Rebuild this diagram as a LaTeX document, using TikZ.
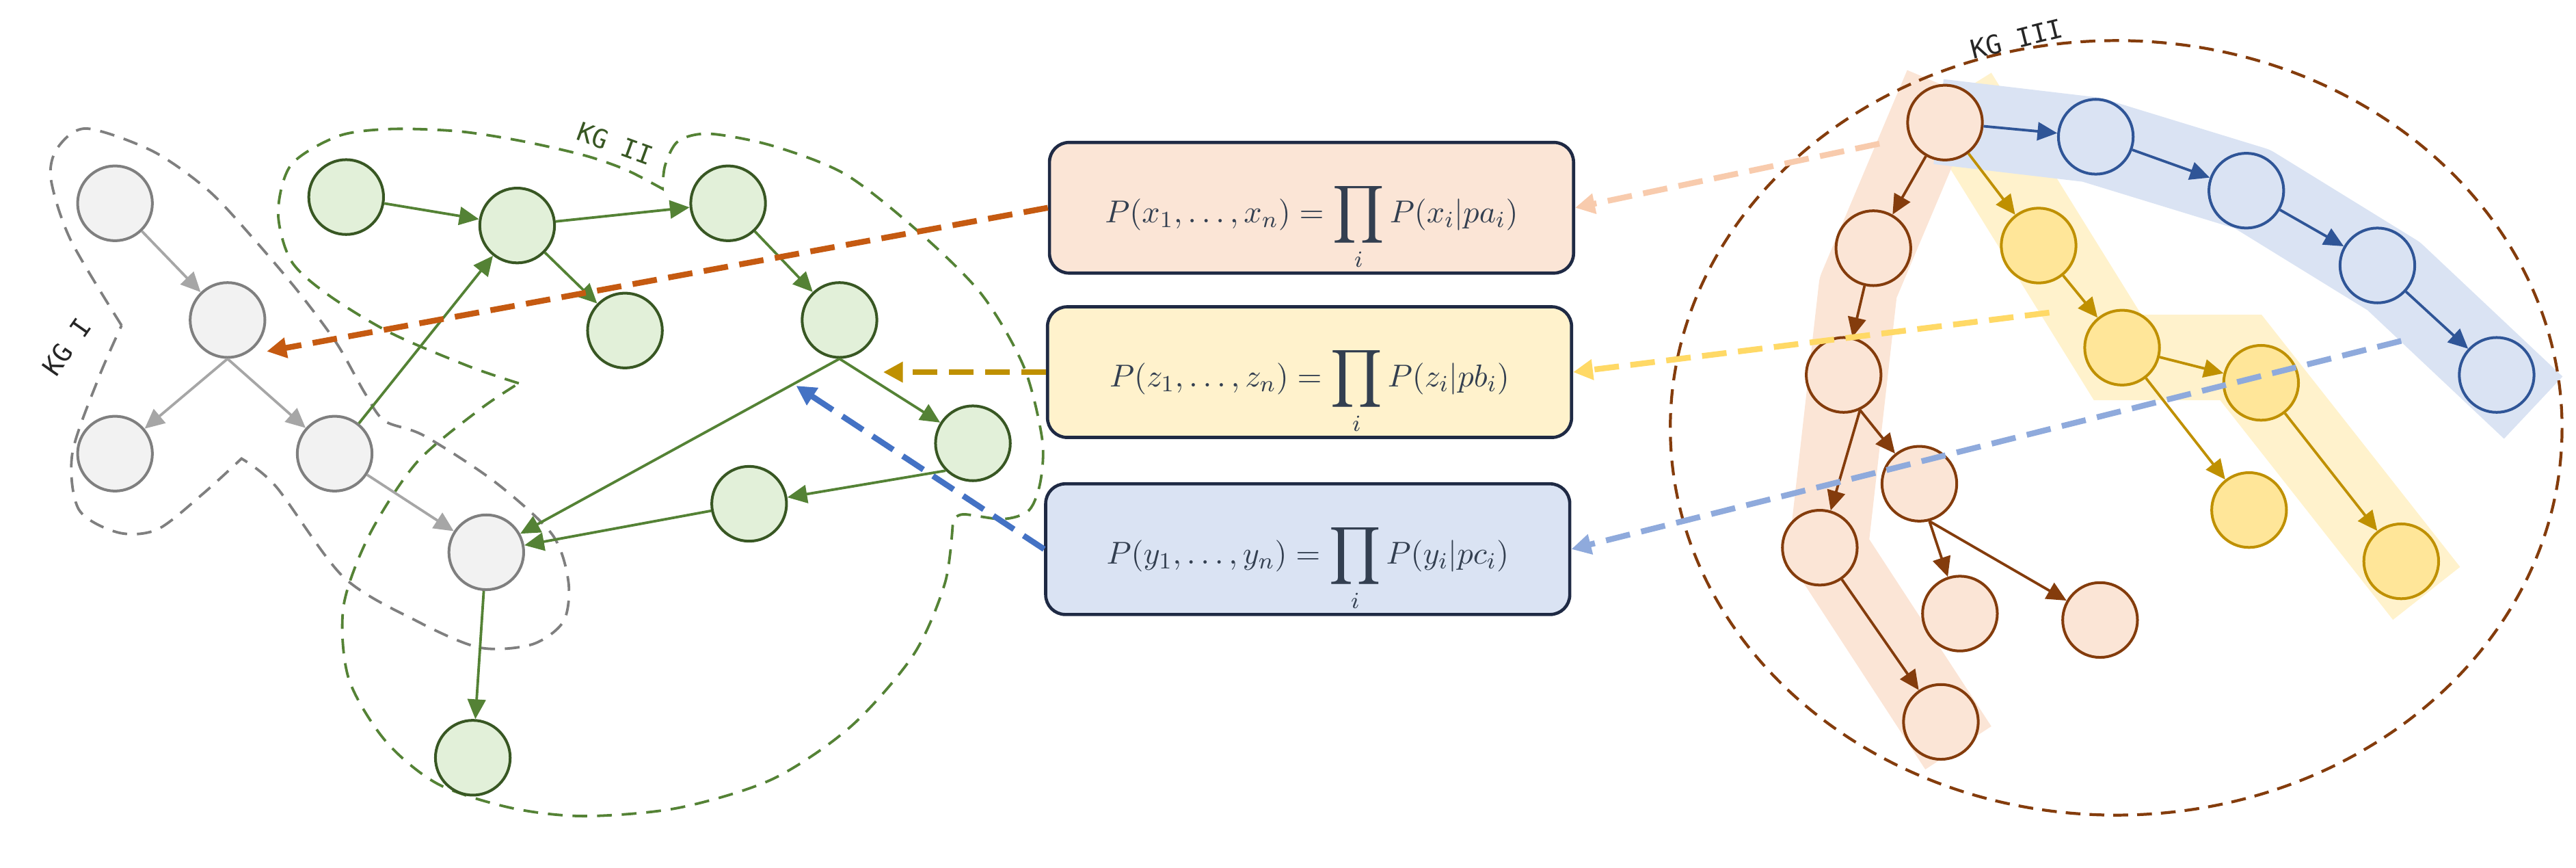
\documentclass[tikz,border=0pt]{standalone}
\usepackage{fontspec}
\usepackage{graphicx}
\newfontfamily\kgfont{DejaVu Sans Mono}
\usetikzlibrary{arrows.meta}
\newcommand{\bigprod}{\mathop{\vcenter{\hbox{\scalebox{1.4}{$\displaystyle\prod$}}}}\limits}
\definecolor{grayln}{HTML}{7F7F7F}
\definecolor{grayfl}{HTML}{F2F2F2}
\definecolor{grayar}{HTML}{A6A6A6}
\definecolor{greenln}{HTML}{385723}
\definecolor{greenfl}{HTML}{E2F0D9}
\definecolor{greenar}{HTML}{548235}
\definecolor{pchln}{HTML}{843C0C}
\definecolor{pchfl}{HTML}{FBE5D6}
\definecolor{ylwln}{HTML}{BF9000}
\definecolor{ylwfl}{HTML}{FFE699}
\definecolor{ylwbd}{HTML}{FFF2CC}
\definecolor{blueln}{HTML}{2F5597}
\definecolor{bluefl}{HTML}{DAE3F3}
\definecolor{boxln}{HTML}{1F2A44}
\definecolor{formtxt}{HTML}{333F50}
\definecolor{orgar}{HTML}{C55A11}
\definecolor{goldar}{HTML}{BF9000}
\definecolor{bluear}{HTML}{4472C4}
\definecolor{pchlt}{HTML}{F8CBAD}
\definecolor{ylwlt}{HTML}{FFD966}
\definecolor{bluelt}{HTML}{8FAADC}
\begin{document}
\begin{tikzpicture}[x=0.2mm,y=-0.2mm,
  kgnd/.style={circle,minimum size=9.1mm,inner sep=0pt,line width=0.95pt},
  gnd/.style={kgnd,draw=grayln,fill=grayfl},
  vnd/.style={kgnd,draw=greenln,fill=greenfl},
  pnd/.style={kgnd,draw=pchln,fill=pchfl},
  ynd/.style={kgnd,draw=ylwln,fill=ylwfl},
  bnd/.style={kgnd,draw=blueln,fill=bluefl},
  arr/.style={-{Triangle[length=2.4mm,width=2.2mm]},line width=0.9pt},
  garr/.style={arr,draw=grayar},
  varr/.style={arr,draw=greenar},
  parr/.style={arr,draw=pchln},
  yarr/.style={arr,draw=ylwln},
  barr/.style={arr,draw=blueln},
  dlink/.style={-{Triangle[length=2.4mm,width=2.4mm]},line width=2pt,dash pattern=on 3mm off 1.4mm},
  blob/.style={line width=0.9pt,dash pattern=on 1.8mm off 1.2mm},
  band/.style={line width=10.4mm,line cap=butt},
  formbox/.style={draw=boxln,line width=1.1pt,rounded corners=2.4mm,minimum width=63.8mm,minimum height=15.9mm,text=formtxt,font=\fontsize{11}{13}\selectfont},
  kglab/.style={font=\kgfont\fontsize{9}{10}\selectfont}]
\useasboundingbox (0,0) rectangle (1568,527.7);

\draw[blob,grayln] plot[smooth] coordinates {(74,198) (43,146) (31,109) (35,90) (52.6,78.2) (93,92) (127,116) (155,146) (182,178) (205,209) (222,239) (234,256) (258,265) (301,293) (336,325) (346,354) (343,378) (324,392) (292,394) (254,378) (209,351) (168,296) (147,279)}
  --plot[smooth] coordinates {(147,279) (124,300) (96,322) (72,324) (48,310) (44,276) (60,230) (74,198)} -- cycle;
\draw[blob,greenar] plot[smooth] coordinates {(315.8,233.2) (285.5,222.9) (237.7,202.5) (199.5,179.2) (177.2,158.7) (169.3,129.5) (177.2,100.3) (205.9,82.8) (237.7,78.5) (279.1,79.9) (317.4,85.8) (355.6,94.5) (381,103.3) (403.3,114.9)}
  --plot[smooth] coordinates {(403.3,114.9) (404.9,100.4) (412.9,85.8) (432,81.4) (470.2,88.7) (514.8,106.2) (559.4,141.2) (597.6,179.2) (623.1,222.9) (634.3,266.7) (633.3,293) (626.3,310.5) (610.4,315.8) (586.5,312.9) (580.1,316.4)}
  --plot[smooth] coordinates {(580.1,316.4) (575.3,354.3) (556.2,398.1) (518,441.9) (470.2,474) (412.9,491.5) (355.6,496.5) (311,491.5) (266.4,476.9) (234.5,450.6) (212.2,412.7) (209.1,368.9) (225,325.1) (253.7,281.3) (291.9,249.2) (315.8,233.2)} -- cycle;
\node[kglab,rotate=55,text=black!85] (l1) at (40.6,211) {KG I};
\node[kglab,rotate=-20,text=greenln] (l2) at (374.5,87.4) {KG II};

\draw[band,ylwbd,line join=miter] (1190,58) -- (1289,217.5) -- (1364,217.5) -- (1477,361);
\draw[band,pchfl,line width=9.6mm,line join=round] (1183,52) -- (1131,175) -- (1113,334) -- (1192,455);
\draw[band,bluefl,line join=round] (1180,74) -- (1273,85) -- (1371,115) -- (1457,168) -- (1542,248);
\draw[pchln,line width=1pt,dash pattern=on 1.8mm off 1.1mm] (1288.1,260.3) ellipse [x radius=271.4, y radius=235.6];
\node[kglab,rotate=14,text=black!85] (l3) at (1227.5,23.6) {KG III};

\node[gnd] (g1) at (70,123.7) {};
\node[gnd] (g2) at (138.5,194.7) {};
\node[gnd] (g3) at (70,276) {};
\node[gnd] (g4) at (203.7,276) {};
\node[gnd] (g5) at (296,336) {};
\node[vnd] (v1) at (210.7,119.9) {};
\node[vnd] (v2) at (314.8,137.2) {};
\node[vnd] (v3) at (443.2,123.7) {};
\node[vnd] (v4) at (380.4,201.1) {};
\node[vnd] (v5) at (511,194.7) {};
\node[vnd] (v6) at (592.2,269.7) {};
\node[vnd] (v7) at (456,306.5) {};
\node[vnd] (v8) at (287.8,461) {};

\draw[garr] (g1) -- (g2);
\draw[garr] (g2.south) -- (g3);
\draw[garr] (g2.south) -- (g4);
\draw[garr] (g4) -- (g5);
\draw[varr] (g4) -- (v2);
\draw[varr] (v1) -- (v2);
\draw[varr] (v2) -- (v3);
\draw[varr] (v2) -- (v4);
\draw[varr] (v3) -- (v5);
\draw[varr] (v5.south) -- (v6);
\draw[varr] (v5.south) -- (g5);
\draw[varr] (v6.south west) -- (v7);
\draw[varr] (v7) -- (g5);
\draw[varr] (g5) -- (v8);

\node[pnd] (c1) at (1183.9,74.6) {};
\node[pnd] (c2) at (1140.3,151) {};
\node[pnd] (c3) at (1122.2,228.1) {};
\node[pnd] (c4) at (1168.3,294.3) {};
\node[pnd] (c5) at (1107.7,333.2) {};
\node[pnd] (c6) at (1193,373.3) {};
\node[pnd] (c7) at (1278.3,377.2) {};
\node[pnd] (c8) at (1181.4,439.2) {};
\node[bnd] (d1) at (1275.7,83.2) {};
\node[bnd] (d2) at (1367.3,116) {};
\node[bnd] (d3) at (1447.1,161.5) {};
\node[bnd] (d4) at (1519.7,228.1) {};
\node[ynd] (e1) at (1240.9,149.4) {};
\node[ynd] (e2) at (1291.7,211.5) {};
\node[ynd] (e3) at (1376.3,232.9) {};
\node[ynd] (e4) at (1369,310.3) {};
\node[ynd] (e5) at (1461.6,341.5) {};

\draw[barr] (c1) -- (d1);
\draw[barr] (d1) -- (d2);
\draw[barr] (d2) -- (d3);
\draw[barr] (d3) -- (d4);
\draw[yarr] (c1) -- (e1);
\draw[yarr] (e1) -- (e2);
\draw[yarr] (e2) -- (e3);
\draw[yarr] (e2) -- (e4);
\draw[yarr] (e3) -- (e5);
\draw[parr] (c1) -- (c2);
\draw[parr] (c2) -- (c3);
\draw[parr] (c3.-65) -- (c4);
\draw[parr] (c3.-65) -- (c5);
\draw[parr] (c4.-75) -- (c6);
\draw[parr] (c4.-75) -- (c7);
\draw[parr] (c5) -- (c8);

\node[formbox,fill=pchfl] (f1) at (798.3,126.4) {\raisebox{-1.8mm}[0pt][0pt]{$P(x_1,\ldots,x_n) = \bigprod_{i} P(x_i|pa_i)$}};
\node[formbox,fill=ylwbd] (f2) at (797.1,226.4) {\raisebox{-1.8mm}[0pt][0pt]{$P(z_1,\ldots,z_n) = \bigprod_{i} P(z_i|pb_i)$}};
\node[formbox,fill=bluefl] (f3) at (796,334.1) {\raisebox{-1.8mm}[0pt][0pt]{$P(y_1,\ldots,y_n) = \bigprod_{i} P(y_i|pc_i)$}};

\coordinate (t1) at (162.4,213.8);
\coordinate (t2) at (537.6,226.4);
\coordinate (t3) at (484.6,234.7);
\coordinate (s1) at (1144,87.4);
\coordinate (s2) at (1247.4,190.2);
\coordinate (s3) at (1461.6,207.4);
\draw[dlink,orgar] (f1.west) -- (t1);
\draw[dlink,goldar] (f2.west) -- (t2);
\draw[dlink,bluear] (f3.west) -- (t3);
\draw[dlink,pchlt] (s1) -- (f1.east);
\draw[dlink,ylwlt] (s2) -- (f2.east);
\draw[dlink,bluelt] (s3) -- (f3.east);
\end{tikzpicture}
\end{document}
